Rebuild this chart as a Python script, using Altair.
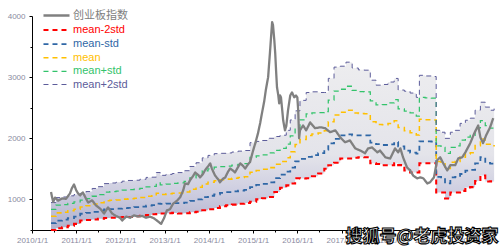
import altair as alt
import pandas as pd

# ---------------- data ----------------
# 创业板指数 : time as decimal year, value
idx_t = [2010.43, 2010.45, 2010.48, 2010.52, 2010.59, 2010.68, 2010.77, 2010.86, 2010.90, 2010.95,
         2011.00, 2011.04, 2011.09, 2011.15, 2011.22, 2011.27, 2011.36, 2011.45, 2011.54, 2011.63,
         2011.72, 2011.81, 2011.90, 2011.99, 2012.04, 2012.13, 2012.22, 2012.31, 2012.40, 2012.49,
         2012.58, 2012.67, 2012.76, 2012.85, 2012.92, 2012.99, 2013.05, 2013.12, 2013.19, 2013.28,
         2013.35, 2013.42, 2013.46, 2013.53, 2013.57, 2013.64, 2013.69, 2013.76, 2013.80, 2013.87,
         2013.91, 2013.98, 2014.03, 2014.07, 2014.14, 2014.21, 2014.25, 2014.32, 2014.37, 2014.43,
         2014.48, 2014.55, 2014.59, 2014.66, 2014.71, 2014.77, 2014.82, 2014.89, 2014.93, 2015.00,
         2015.05, 2015.11, 2015.16, 2015.20, 2015.25, 2015.29, 2015.34, 2015.36, 2015.38, 2015.41,
         2015.43, 2015.45, 2015.48, 2015.50, 2015.52, 2015.54, 2015.57, 2015.59, 2015.61, 2015.63,
         2015.66, 2015.68, 2015.72, 2015.75, 2015.79, 2015.84, 2015.88, 2015.93, 2015.97, 2016.00,
         2016.02, 2016.04, 2016.06, 2016.13, 2016.20, 2016.29, 2016.40, 2016.52, 2016.63, 2016.74,
         2016.86, 2016.97, 2017.08, 2017.19, 2017.31, 2017.42, 2017.53, 2017.60, 2017.69, 2017.81,
         2017.87, 2017.99, 2018.10, 2018.21, 2018.28, 2018.33, 2018.39, 2018.48, 2018.55, 2018.62,
         2018.71, 2018.78, 2018.85, 2018.94, 2019.00, 2019.09, 2019.16, 2019.23, 2019.30, 2019.39,
         2019.46, 2019.57, 2019.64, 2019.73, 2019.80, 2019.91, 2020.00, 2020.09, 2020.14, 2020.20,
         2020.27, 2020.36, 2020.43]
idx_v = [1120, 1050, 960, 1030, 980, 1015, 1010, 1100, 1180, 1245,
         1150, 1100, 1065, 1115, 1015, 950, 985, 900, 850, 770,
         870, 770, 730, 700, 655, 720, 700, 740, 720, 730,
         700, 720, 690, 640, 600, 700, 820, 840, 930, 980,
         1035, 1150, 1260, 1250, 1310, 1380, 1440, 1400, 1360, 1420,
         1475, 1540, 1590, 1500, 1390, 1330, 1280, 1340, 1360, 1450,
         1505, 1470, 1440, 1530, 1590, 1550, 1505, 1580, 1610, 1800,
         1920, 2080, 2250, 2410, 2600, 2800, 3000, 3200, 3390, 3700,
         3900, 3850, 3600, 3390, 3100, 2835, 2700, 2570, 2700, 2670,
         2450, 2295, 2130, 2200, 2460, 2700, 2750, 2670, 2700, 2670,
         2460, 2000, 2130, 2210, 2130, 2260, 2165, 2180, 2165, 2100,
         2130, 2015, 1935, 1965, 1835, 1800, 1755, 1835, 1850, 1770,
         1800, 1690, 1670, 1835, 1770, 1835, 1690, 1525, 1475, 1390,
         1345, 1360, 1345, 1260, 1280, 1360, 1640, 1690, 1590, 1475,
         1560, 1560, 1670, 1690, 1770, 1920, 2080, 2210, 2015, 1920,
         2050, 2180, 2330]

# rolling mean and std of the band (step series)
band_t = [2010.43, 2010.54, 2010.68, 2010.81, 2010.95, 2011.09, 2011.22, 2011.36, 2011.49, 2011.63,
          2011.76, 2011.90, 2012.04, 2012.17, 2012.31, 2012.44, 2012.58, 2012.71, 2012.81, 2012.90,
          2013.03, 2013.17, 2013.30, 2013.44, 2013.57, 2013.71, 2013.85, 2013.98, 2014.12, 2014.25,
          2014.39, 2014.52, 2014.66, 2014.80, 2014.93, 2015.07, 2015.20, 2015.34, 2015.48, 2015.61,
          2015.75, 2015.84, 2015.95, 2016.06, 2016.20, 2016.33, 2016.47, 2016.61, 2016.70, 2016.83,
          2016.97, 2017.10, 2017.24, 2017.38, 2017.51, 2017.65, 2017.78, 2017.92, 2018.05, 2018.19,
          2018.28, 2018.42, 2018.55, 2018.69, 2018.76, 2018.89, 2019.03, 2019.14, 2019.25, 2019.34,
          2019.46, 2019.57, 2019.68, 2019.80, 2019.91, 2020.02, 2020.14, 2020.25, 2020.36, 2020.45]
band_mean = [725, 780, 792, 815, 840, 877, 897, 925, 947, 977,
             985, 992, 1005, 1012, 1020, 1032, 1052, 1060, 1100, 1082,
             1092, 1102, 1105, 1122, 1165, 1200, 1252, 1280, 1305, 1322,
             1332, 1345, 1360, 1370, 1445, 1475, 1492, 1520, 1575, 1620,
             1680, 1780, 1897, 1982, 2047, 2070, 2087, 2125, 2270, 2382,
             2425, 2457, 2415, 2405, 2402, 2270, 2225, 2220, 2240, 2285,
             2175, 2122, 2090, 2055, 2310, 2305, 2300, 1622, 1607, 1507,
             1607, 1622, 1692, 1745, 1765, 1880, 1990, 1902, 1877, 1892]
band_std = [112, 125, 124, 122, 120, 111, 116, 127, 131, 141,
            142, 144, 147, 149, 147, 149, 154, 152, 170, 156,
            159, 161, 167, 174, 187, 200, 214, 220, 222, 216,
            214, 215, 215, 215, 242, 237, 236, 240, 227, 215,
            225, 260, 276, 319, 351, 345, 331, 312, 355, 391,
            377, 394, 367, 357, 356, 340, 322, 330, 340, 347,
            307, 324, 325, 307, 360, 357, 355, 254, 246, 246,
            246, 254, 276, 275, 282, 290, 300, 304, 291, 299]

series_names = ["创业板指数", "mean-2std", "mean-std", "mean", "mean+std", "mean+2std"]
series_colors = ["#808080", "#ff0000", "#2f67a6", "#ffc000", "#33c36b", "#5c5c9a"]
series_dash = [[1, 0], [5, 4], [5, 4], [5, 4], [5, 4], [5, 4]]
series_width = [2.3, 1.0, 1.0, 1.0, 1.0, 1.0]

x_ticks = [2010 + 0.5 * i for i in range(21)]
y_ticks = [500, 1000, 1500, 2000, 2500, 3000, 3500, 4000]
watermark = ["搜狐号@老虎投资家"]

# ---------------- chart ----------------
idx_df = pd.DataFrame({"t": idx_t, "value": idx_v, "series": series_names[0]})
band_df = pd.DataFrame({"t": band_t, "mean": band_mean, "std": band_std})

label_color_expr = " : ".join(
    f"datum.label == '{n}' ? '{c}'" for n, c in zip(series_names, series_colors)
) + " : '#808080'"

AX = "#000000"
LBL = "#8a8aa0"

x_enc = alt.X(
    "t:Q",
    title=None,
    scale=alt.Scale(domain=[2010, 2020.47], nice=False, zero=False),
    axis=alt.Axis(
        values=x_ticks,
        labelExpr="datum.value % 1 == 0 ? datum.value + '/1/1' : ''",
        grid=False, domainColor=AX, tickColor=AX, domainWidth=1,
        tickSize={"condition": {"test": "datum.value % 1 == 0", "value": 3}, "value": 2},
        labelColor=LBL, labelFontSize=8, labelFont="Liberation Sans",
        labelPadding=3, labelFlush=False, labelOverlap=False,
    ),
)
y_scale = alt.Scale(domain=[500, 4000], nice=False, zero=False)
y_axis = alt.Axis(
    values=y_ticks,
    labelExpr="datum.value % 1000 == 0 ? datum.value : ''",
    grid=False, domainColor=AX, tickColor=AX, domainWidth=1,
    tickSize={"condition": {"test": "datum.value % 1000 == 0", "value": 3}, "value": 2},
    labelColor=LBL, labelFontSize=8, labelFont="Liberation Sans", labelPadding=4,
)

color_scale = alt.Scale(domain=series_names, range=series_colors)
dash_scale = alt.Scale(domain=series_names, range=series_dash)
width_scale = alt.Scale(domain=series_names, range=series_width)

legend = alt.Legend(
    title=None, orient="none", legendX=17, legendY=-8,
    symbolType="M-2.17,0H2.17", symbolSize=144, symbolStrokeWidth=1.2,
    labelFontSize=11, labelFont="Liberation Sans, Noto Sans CJK SC",
    labelColor={"expr": label_color_expr}, labelOffset=9, rowPadding=1.6,
    labelLimit=200, padding=0,
)

area = alt.Chart(band_df).transform_calculate(
    lo="datum.mean - 2 * datum.std", hi="datum.mean + 2 * datum.std"
).mark_area(
    interpolate="step-after",
    color=alt.Gradient(
        gradient="linear", x1=0, x2=0, y1=0, y2=1,
        stops=[
            alt.GradientStop(color="#ededef", offset=0),
            alt.GradientStop(color="#e4e4ea", offset=0.55),
            alt.GradientStop(color="#cdcde0", offset=0.78),
            alt.GradientStop(color="#b0b0cc", offset=1),
        ],
    ),
).encode(x=x_enc, y=alt.Y("lo:Q", scale=y_scale, axis=y_axis, title=None), y2="hi:Q")

bands = alt.Chart(band_df).transform_calculate(
    **{
        "mean-2std": "datum.mean - 2 * datum.std",
        "mean-std": "datum.mean - datum.std",
        "mean+std": "datum.mean + datum.std",
        "mean+2std": "datum.mean + 2 * datum.std",
    }
).transform_fold(
    ["mean-2std", "mean-std", "mean", "mean+std", "mean+2std"], as_=["series", "value"]
).mark_line(interpolate="step-after").encode(
    x=x_enc,
    y=alt.Y("value:Q", scale=y_scale, axis=y_axis, title=None),
    color=alt.Color("series:N", scale=color_scale, legend=legend),
    strokeDash=alt.StrokeDash("series:N", scale=dash_scale, legend=legend),
    strokeWidth=alt.StrokeWidth("series:N", scale=width_scale, legend=legend),
    detail="series:N",
)

index_line = alt.Chart(idx_df).mark_line(strokeJoin="round").encode(
    x=x_enc,
    y=alt.Y("value:Q", scale=y_scale, axis=y_axis, title=None),
    color=alt.Color("series:N", scale=color_scale, legend=legend),
    strokeDash=alt.StrokeDash("series:N", scale=dash_scale, legend=legend),
    strokeWidth=alt.StrokeWidth("series:N", scale=width_scale, legend=legend),
)

wm = alt.Chart(pd.DataFrame({"txt": watermark})).mark_text(
    font="Noto Sans CJK SC", fontSize=17, fontWeight="bold",
    fill="#ffffff", stroke="#000000", strokeWidth=1.1,
    align="center", baseline="middle",
).encode(text="txt:N", x=alt.value(390), y=alt.value(221))

chart = alt.layer(area, bands, index_line, wm).properties(
    width=463, height=214,
    autosize=alt.AutoSizeParams(type="none"),
    padding={"left": 32, "top": 16, "right": 8, "bottom": 21},
    background="#ffffff",
).configure_view(stroke=None)

chart.save("out.html", embed_options={"renderer": "svg", "actions": False})
